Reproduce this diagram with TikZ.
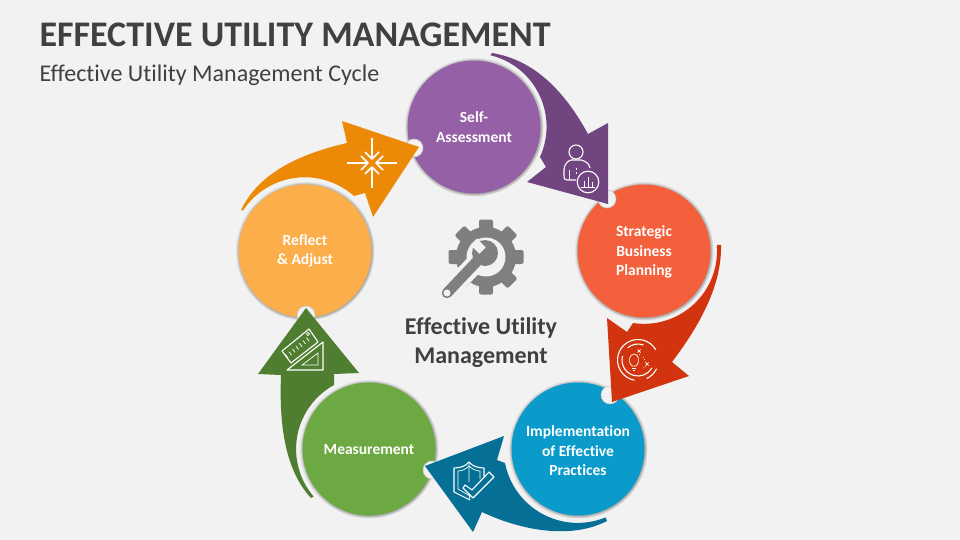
\documentclass[tikz,border=0pt]{standalone}
\usepackage{fontspec}
\setmainfont{Carlito}[Ligatures=NoCommon]
\usetikzlibrary{shadows}
\definecolor{bgcol}{HTML}{F2F2F2}
\definecolor{inkcol}{HTML}{404040}
\definecolor{gearcol}{HTML}{7F7F7F}

\begin{document}
\begin{tikzpicture}[x=1pt, y=-1pt, align=center,
	main/.style = {circle, minimum size = 133pt, inner sep = 0pt, text = white,
		font = \fontsize{15.5}{19.5}\selectfont\bfseries,
		circular drop shadow = {shadow xshift = 0pt, shadow yshift = 0pt, shadow scale = 1.045, fill = black!90}},
	notch/.style = {circle, fill = bgcol, draw = black!22, line width = 0.6pt, minimum size = 18pt, inner sep = 0pt},
	icon/.style = {draw = white, line width = 1.1pt, fill = none, line join = round},
	tiny/.style = {draw = white, line width = 0.7pt}]
	\fill[bgcol] (0,0) rectangle (960,540);
	\useasboundingbox (0,0) rectangle (960,540);

	\node[anchor = west, text = inkcol, font = \fontsize{36}{36}\selectfont\bfseries] (title) at (36,35) {EFFECTIVE UTILITY MANAGEMENT};
	\node[anchor = west, text = inkcol, font = \fontsize{24}{24}\selectfont] (subtitle) at (36,75) {Effective Utility Management Cycle};

	\node[main, fill = {rgb,255:red,149;green,96;blue,165}] (self) at (474,127) {Self-\\Assessment};
	\node[main, text depth = -0.5pt, fill = {rgb,255:red,244;green,96;blue,60}] (plan) at (644,251) {Strategic\\Business\\Planning};
	\node[main, fill = {rgb,255:red,10;green,155;blue,203}] (impl) at (578,449) {\rule{0pt}{15pt}Implementation\\of Effective\\Practices};
	\node[main, text depth = -3pt, fill = {rgb,255:red,108;green,169;blue,66}] (meas) at (369,449) {Measurement};
	\node[main, fill = {rgb,255:red,251;green,174;blue,74}] (reflect) at (305,251) {Reflect\\\& Adjust};

	\node[notch] (n1) at (414,148) {};
	\node[notch] (n2) at (607,199) {};
	\node[notch] (n3) at (610,395) {};
	\node[notch] (n4) at (432,470) {};
	\node[notch] (n5) at (306,315) {};

	% arrows
	\fill[fill = {rgb,255:red,112;green,69;blue,128}] (492,53) .. controls (535,60) and (565,92) .. (588,134)
		-- (608,123) -- (608,204) -- (527,182) -- (546,167) -- (540,157)
		arc[start angle = 24.4, end angle = -76.3, radius = 73.5] -- cycle;
	\fill[fill = {rgb,255:red,210;green,52;blue,15}] (721,245) .. controls (722,285) and (700,325) .. (672,362)
		-- (689,376) -- (612,402) -- (607,318) -- (627,332) -- (633,323)
		arc[start angle = 98.7, end angle = -4.7, radius = 73] -- cycle;
	\fill[fill = {rgb,255:red,5;green,111;blue,149}] (607,521) .. controls (570,540) and (520,530) .. (482,512)
		-- (473,532) -- (425,466) -- (504,436) -- (497,460) -- (505,463)
		arc[start angle = 169, end angle = 67.8, radius = 74] -- cycle;
	\fill[fill = {rgb,255:red,80;green,126;blue,49}] (311,498) .. controls (285,470) and (279,425) .. (281,375)
		-- (258,374) -- (306,308) -- (359,373) -- (334,374) -- (334,385)
		arc[start angle = 241.3, end angle = 139.4, radius = 73] -- cycle;
	\fill[fill = {rgb,255:red,236;green,138;blue,8}] (241,210) .. controls (258,175) and (295,155) .. (347,143)
		-- (342,121) -- (419,147) -- (373,217) -- (365,193) -- (354,196)
		arc[start angle = -48.3, end angle = -146.5, radius = 74] -- cycle;

	% person and chart
	\draw[icon] (576,152) circle (7);
	\draw[icon] (576,180) -- (567,180) .. controls (564,180) and (564,178) .. (564,176) -- (564,170)
		.. controls (564,164) and (568,161) .. (571,160) -- (581,160) .. controls (585,161) and (589,163) .. (590,168);
	\draw[icon, fill = {rgb,255:red,112;green,69;blue,128}] (588,182) circle (10.8);
	\draw[tiny] (581,187) -- (595,187) (584,187) -- (584,181) (588,187) -- (588,177) (592,187) -- (592,182)
		(576,168) -- (576,170) (576,172) -- (576,174) (569,170) -- (569,179);

	% bulb and path
	\draw[icon] (638,360) ++(-30:20.5) arc[start angle = -30, end angle = -260, radius = 20.5];
	\draw[icon] (638,360) ++(65:20.5) arc[start angle = 65, end angle = 25, radius = 20.5];
	\draw[icon] (638,360) ++(195:16) arc[start angle = 195, end angle = 30, radius = 16];
	\draw[icon] (638,360) ++(-70:16) arc[start angle = -70, end angle = -130, radius = 16];
	\draw[tiny] (632,366) .. controls (627,361) and (630,354) .. (634,354) .. controls (638,354) and (641,361) .. (636,366) -- cycle;
	\draw[tiny] (632,368.5) -- (636,368.5) (633,370.5) -- (635,370.5);
	\draw[tiny, dotted] (637,356) .. controls (641,355) and (640,353) .. (640,352) (643,357) .. controls (645,359) and (645,361) .. (646,363) (646,366) .. controls (645,368) and (644,368) .. (642,368);
	\draw[tiny] (637.5,349.5) -- (640.5,352.5) (640.5,349.5) -- (637.5,352.5) (645.5,362.5) -- (648.5,365.5) (648.5,362.5) -- (645.5,365.5);

	% shield and check
	\draw[icon] (470,500) -- (454,492) -- (454,468) .. controls (460,468) and (466,466) .. (469,462)
		.. controls (472,466) and (478,468) .. (484,468) -- (484,477);
	\draw[tiny] (470,496) -- (458,489) -- (458,471) .. controls (462,471) and (466,469) .. (469,466)
		.. controls (472,469) and (476,471) .. (480,471) -- (480,479);
	\draw[tiny] (469,462) -- (469,482) (469,494) -- (470,500);
	\draw[icon] (463,488) -- (465,485) -- (472,490) -- (489,472) -- (494,477) -- (473,498) -- cycle;

	% ruler and set square
	\draw[icon] (282,351) -- (309,329) -- (318,342) -- (291,363) -- cycle;
	\draw[tiny] (308,334) circle (1.6);
	\foreach \i in {0,1,2,3,4,5,6} {
		\draw[tiny] ({288+\i*3.5},{358-\i*2.8}) -- ({285.5+\i*3.5},{354.5-\i*2.8});
	}
	\draw[icon] (287,370) -- (323,342) -- (323,370) -- cycle;
	\draw[tiny] (302,365) -- (318,353) -- (318,365) -- cycle;

	% arrows pointing inward
	\foreach \a in {0,90,180,270} {
		\begin{scope}[shift = {(372,163)}, rotate = \a]
			\draw[icon, line width = 1.6pt] (0,-25) -- (0,-4);
			\draw[icon, line width = 1.6pt] (-7,-11) -- (0,-4) -- (7,-11);
		\end{scope}
	}

	% gear and wrench
	\foreach \a in {0,45,...,315} {
		\begin{scope}[shift = {(486,257)}, rotate = \a]
			\fill[gearcol, rounded corners = 2pt] (-7,-37.5) rectangle (7,-20);
		\end{scope}
	}
	\fill[gearcol] (486,257) circle (30);
	\fill[bgcol] (486,257) circle (19.5);
	\draw[bgcol, line width = 19pt] (447,293) -- (474,265);
	\draw[gearcol, line width = 10.5pt, line cap = round] (447,293) -- (482,256);
	\fill[gearcol] (485,253) circle (13);
	\begin{scope}[shift = {(485,253)}, rotate = 45]
		\fill[bgcol] (-4.5,-3.5) rectangle (4.5,-16);
	\end{scope}
	\fill[bgcol] (447,293) circle (3.5);

	\node[text = inkcol, font = \fontsize{24}{29}\selectfont\bfseries] (core) at (481,342.5) {Effective Utility\\Management};
\end{tikzpicture}
\end{document}
